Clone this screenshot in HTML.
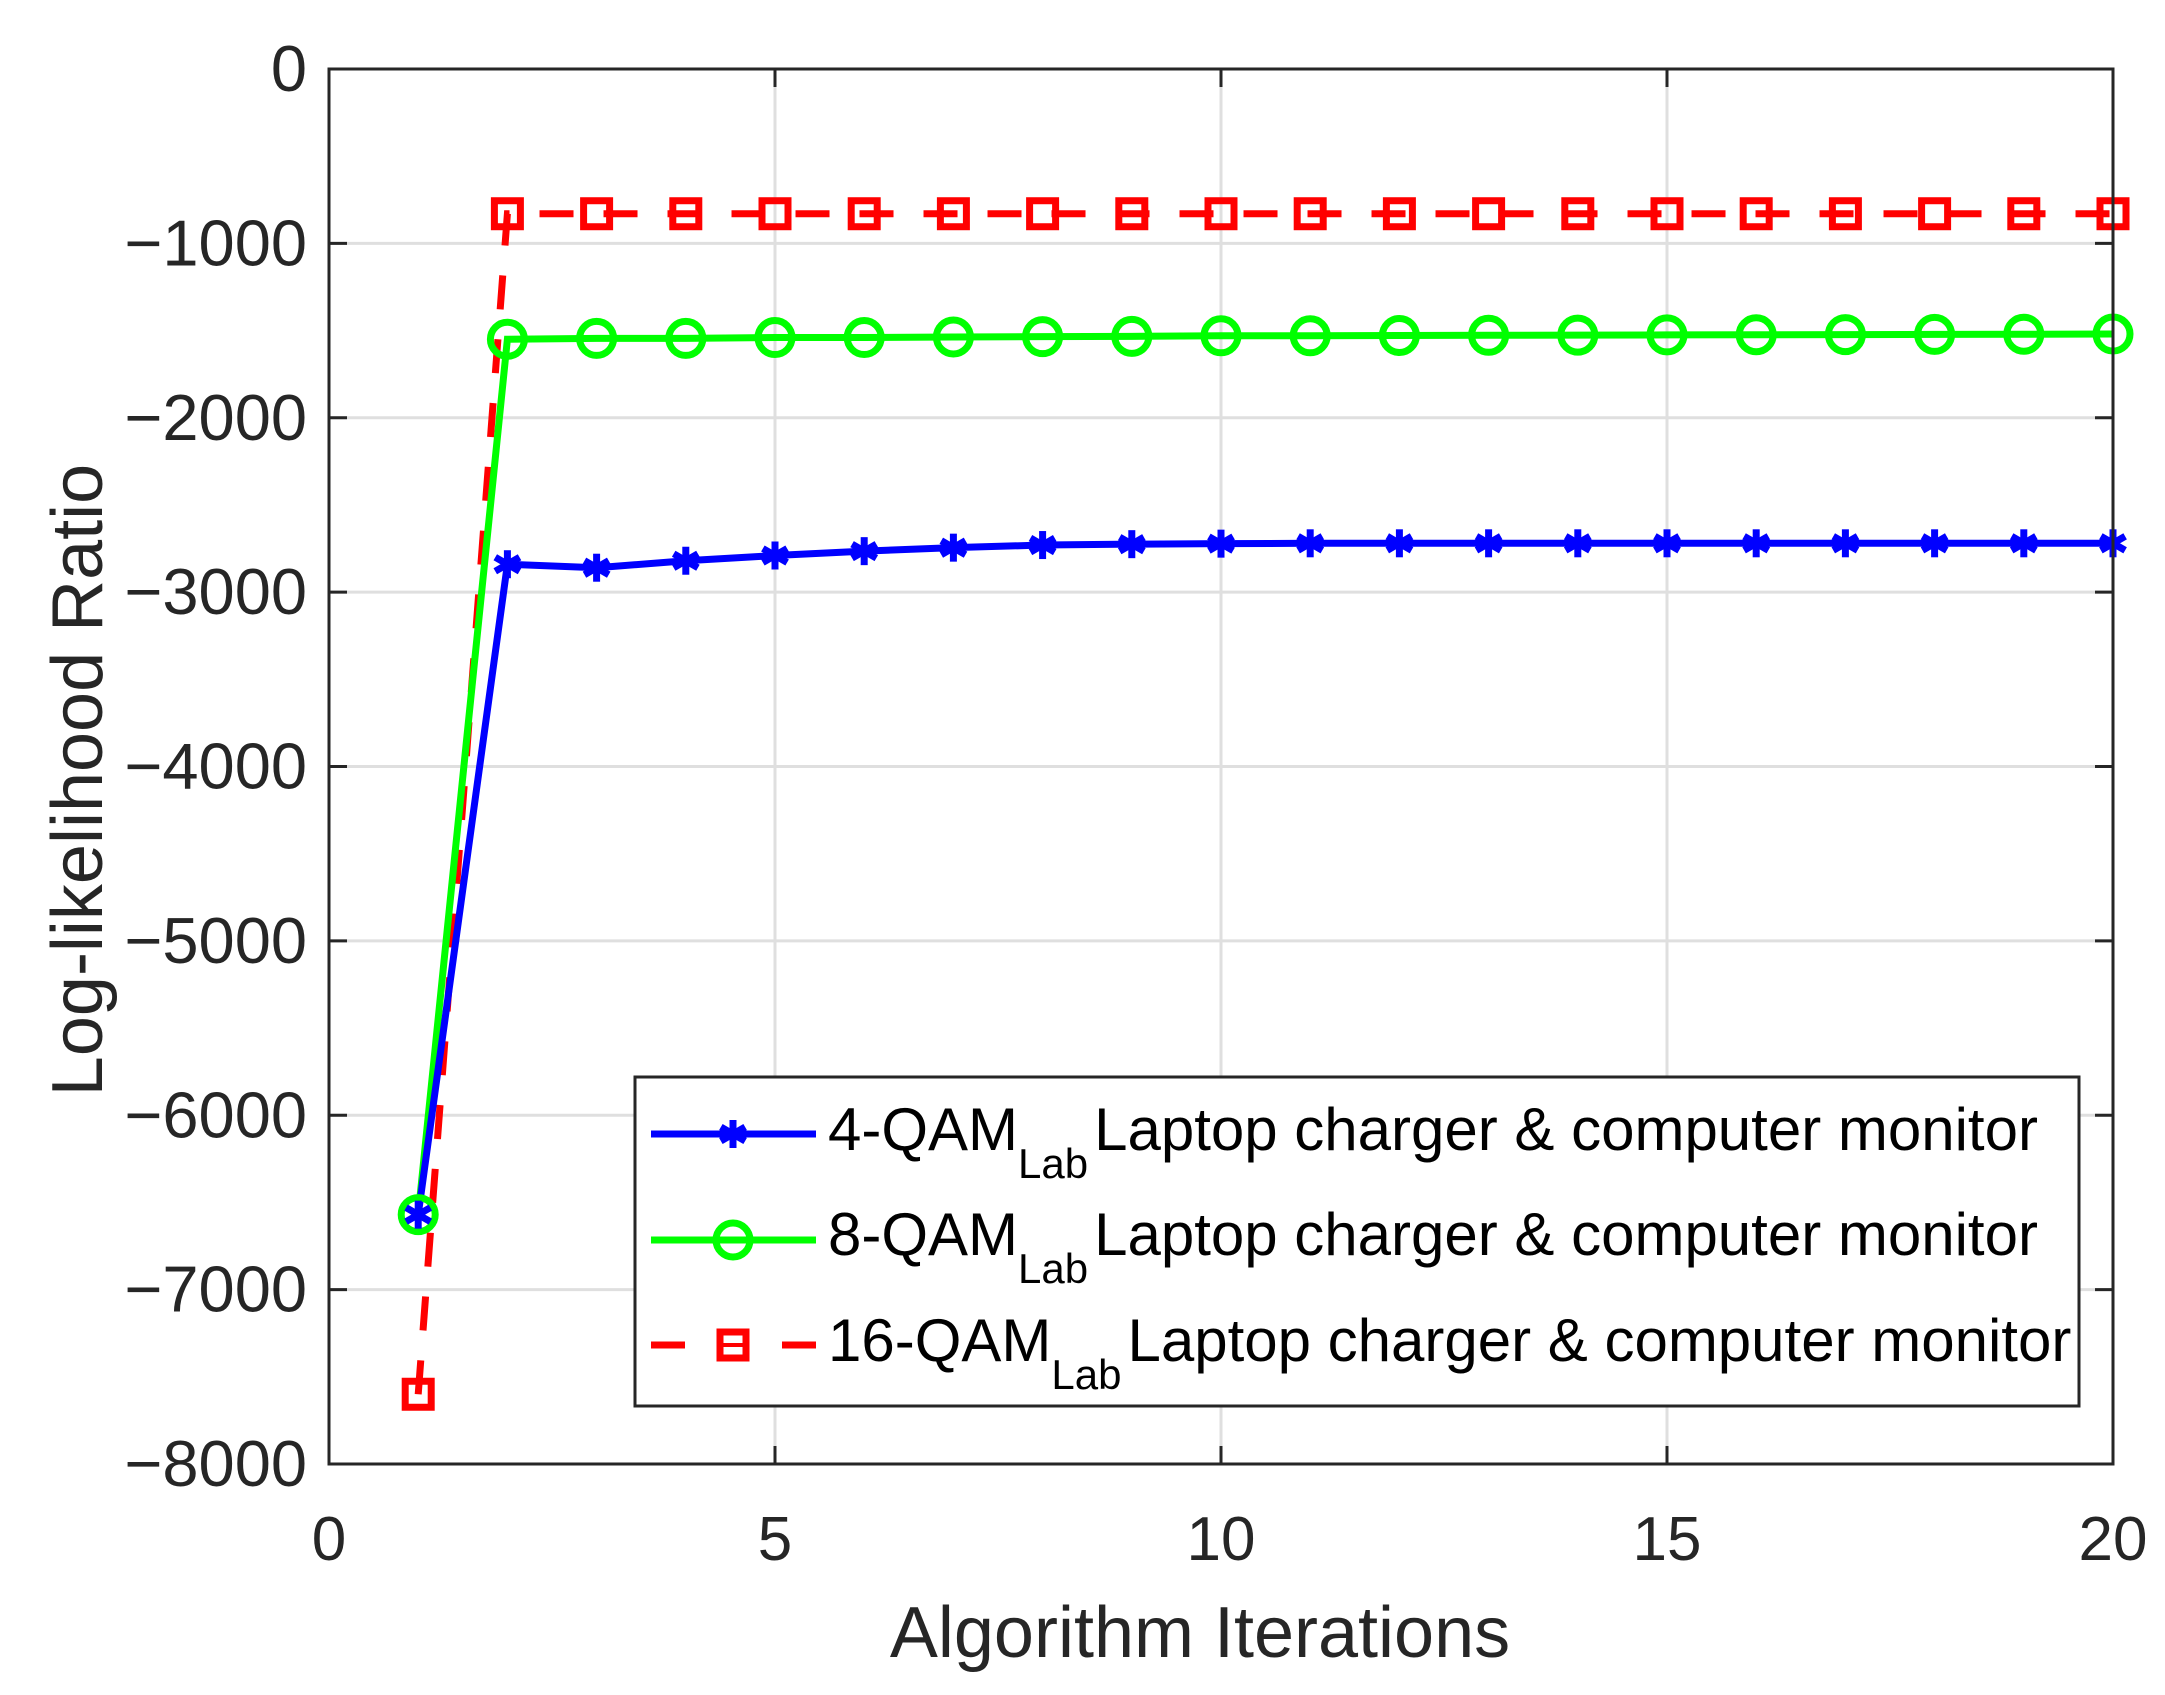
<!DOCTYPE html>
<html><head><meta charset="utf-8"><style>
html,body{margin:0;padding:0;background:#fff;}
svg{display:block;font-family:"Liberation Sans",Arial,sans-serif;}
</style></head><body>
<svg id="s" width="2165" height="1695" viewBox="0 0 2165 1695" xmlns="http://www.w3.org/2000/svg">
<rect width="2165" height="1695" fill="#fff"/>
<g id="grid" stroke="#dfdfdf" stroke-width="3"></g>
<g id="series"></g>
<g id="axes"></g>
<g id="legend">
<rect x="635" y="1077" width="1444" height="329" fill="#fff" stroke="#262626" stroke-width="3"/>
<line x1="651" y1="1134" x2="816" y2="1134" stroke="#0000ff" stroke-width="7"/>
<line x1="651" y1="1240" x2="816" y2="1240" stroke="#00ff00" stroke-width="7"/>
<line x1="651" y1="1345" x2="685" y2="1345" stroke="#ff0000" stroke-width="7"/>
<line x1="782" y1="1345" x2="816" y2="1345" stroke="#ff0000" stroke-width="7"/>
<g font-size="60" fill="#000">
<text x="828" y="1150">4-QAM<tspan font-size="42" dy="28">Lab</tspan><tspan dy="-28" dx="6">Laptop charger &amp; computer monitor</tspan></text>
<text x="828" y="1255">8-QAM<tspan font-size="42" dy="28">Lab</tspan><tspan dy="-28" dx="6">Laptop charger &amp; computer monitor</tspan></text>
<text x="828" y="1361">16-QAM<tspan font-size="42" dy="28">Lab</tspan><tspan dy="-28" dx="6">Laptop charger &amp; computer monitor</tspan></text>
</g>
</g>
</svg>
<script>
const L=329,R=2113,T=69,B=1464;
const X=v=>L+(R-L)*v/20, Y=v=>T+(B-T)*(-v)/8000;
const ns="http://www.w3.org/2000/svg";
function el(p,t,a,txt){const e=document.createElementNS(ns,t);for(const k in a)e.setAttribute(k,a[k]);if(txt!==undefined)e.textContent=txt;document.getElementById(p).appendChild(e);return e;}
for(let i=1;i<4;i++)el("grid","line",{x1:X(i*5),y1:T,x2:X(i*5),y2:B});
for(let i=1;i<8;i++)el("grid","line",{x1:L,y1:Y(-i*1000),x2:R,y2:Y(-i*1000)});
const blue=[-6570,-2840,-2860,-2820,-2790,-2765,-2745,-2730,-2725,-2722,-2720,-2720,-2720,-2720,-2720,-2720,-2720,-2720,-2720,-2720];
const green=[-6570,-1550,-1545,-1545,-1540,-1540,-1537,-1535,-1533,-1530,-1530,-1528,-1527,-1526,-1525,-1524,-1523,-1522,-1521,-1520];
const red=[-7600];for(let i=1;i<20;i++)red.push(-830);
const pts=a=>a.map((v,i)=>X(i+1)+","+Y(v)).join(" ");
el("series","polyline",{points:pts(red),fill:"none",stroke:"#ff0000","stroke-width":7,"stroke-dasharray":"34 30"});
el("series","polyline",{points:pts(green),fill:"none",stroke:"#00ff00","stroke-width":7});
el("series","polyline",{points:pts(blue),fill:"none",stroke:"#0000ff","stroke-width":7});
function star(g,x,y,c){for(const a of [0,60,120]){const r=a*Math.PI/180,d=14;el(g,"line",{x1:x-d*Math.sin(r),y1:y-d*Math.cos(r),x2:x+d*Math.sin(r),y2:y+d*Math.cos(r),stroke:c,"stroke-width":7});}}
red.forEach((v,i)=>el("series","rect",{x:X(i+1)-13,y:Y(v)-13,width:26,height:26,fill:"none",stroke:"#ff0000","stroke-width":7}));
green.forEach((v,i)=>el("series","circle",{cx:X(i+1),cy:Y(v),r:17,fill:"none",stroke:"#00ff00","stroke-width":7}));
blue.forEach((v,i)=>star("series",X(i+1),Y(v),"#0000ff"));
star("legend",733,1134,"#0000ff");
el("legend","circle",{cx:733,cy:1240,r:17,fill:"none",stroke:"#00ff00","stroke-width":7});
el("legend","rect",{x:720,y:1332,width:26,height:26,fill:"none",stroke:"#ff0000","stroke-width":7});
el("legend","line",{x1:722,y1:1345,x2:744,y2:1345,stroke:"#ff0000","stroke-width":4});
el("axes","rect",{x:L,y:T,width:R-L,height:B-T,fill:"none",stroke:"#262626","stroke-width":3});
for(let i=0;i<=4;i++){const x=X(i*5);
 el("axes","line",{x1:x,y1:B,x2:x,y2:B-18,stroke:"#262626","stroke-width":3});
 el("axes","line",{x1:x,y1:T,x2:x,y2:T+18,stroke:"#262626","stroke-width":3});
 el("axes","text",{x:x,y:1560,"font-size":62,"text-anchor":"middle",fill:"#262626"},String(i*5));}
for(let i=0;i<=8;i++){const y=Y(-i*1000);
 el("axes","line",{x1:L,y1:y,x2:L+18,y2:y,stroke:"#262626","stroke-width":3});
 el("axes","line",{x1:R,y1:y,x2:R-18,y2:y,stroke:"#262626","stroke-width":3});
 el("axes","text",{x:307,y:y+22,"font-size":65,"text-anchor":"end",fill:"#262626"},i?"\u2212"+i*1000:"0");}
el("axes","text",{x:1200,y:1657,"font-size":72,"text-anchor":"middle",fill:"#262626"},"Algorithm Iterations");
el("axes","text",{x:0,y:0,"font-size":72,"text-anchor":"middle",fill:"#262626",transform:"translate(102,780) rotate(-90)"},"Log-likelihood Ratio");
</script>
</body></html>
